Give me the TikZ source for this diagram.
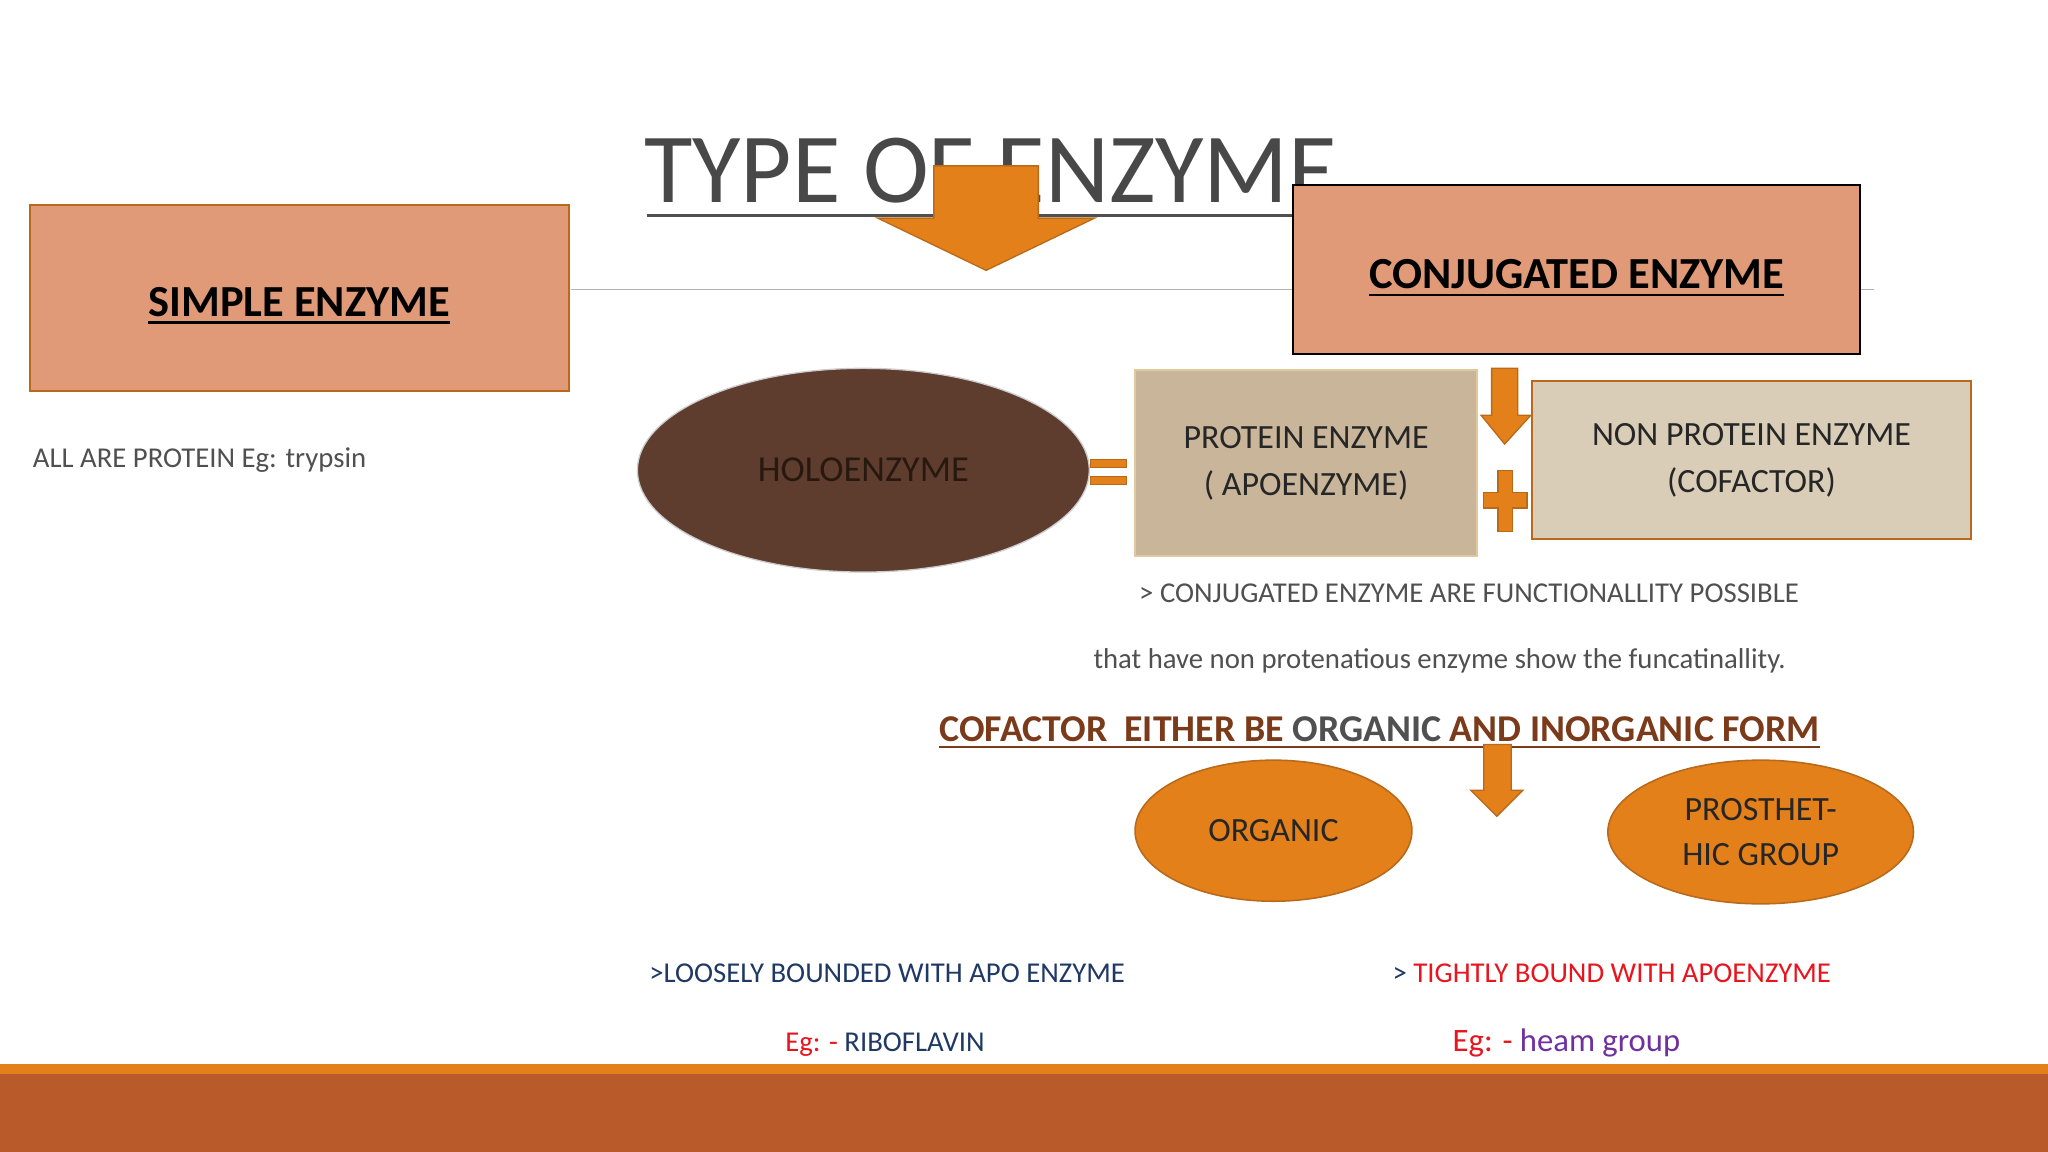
\documentclass[tikz,border=0pt]{standalone}
\usepackage{fontspec}
\setmainfont{Carlito}
\usetikzlibrary{shapes.geometric}
\begin{document}
\begin{tikzpicture}[x=1pt,y=-1pt,
  salmon/.style={fill=boxsal,line width=1.5pt},
  orangeshape/.style={fill=arrowor,draw=arrowdk,line width=1pt},
  body/.style={font=\fontsize{22}{26}\selectfont,anchor=base west,inner sep=0pt}]
\definecolor{boxsal}{HTML}{E09A78}
\definecolor{arrowor}{HTML}{E3801A}
\definecolor{arrowdk}{HTML}{B86A1A}
\definecolor{txtgray}{HTML}{505050}
\definecolor{brownt}{HTML}{7B3A1A}
\definecolor{navyt}{HTML}{1F3864}
\definecolor{redt}{HTML}{E8141E}
\definecolor{purpt}{HTML}{7030A0}
\definecolor{bandc}{HTML}{B85A2A}
\definecolor{holoc}{HTML}{5E3D2F}
\definecolor{holot}{HTML}{28190F}
\definecolor{protc}{HTML}{C8B59A}
\definecolor{protd}{HTML}{E0C9A0}
\definecolor{nonpc}{HTML}{D9CDB8}
\useasboundingbox (0,0) rectangle (1568,882);
\fill[white] (0,0) rectangle (1568,882);
% bottom band
\fill[arrowor] (0,815) rectangle (1568,822);
\fill[bandc] (0,822) rectangle (1568,882);
% title
\draw[gray!60,line width=0.8pt] (437,222) -- (1435,222);
\node[anchor=base west,inner sep=0pt,text=txtgray!90!black,font=\fontsize{76}{80}\selectfont] (title) at (493,155) {TYPE OF ENZYME};
\draw[txtgray,line width=2pt] (495,165) -- (1000,165);
\draw[orangeshape] (715,127) -- (795,127) -- (795,167) -- (838,167) -- (755,207) -- (672,167) -- (715,167) -- cycle;
% simple
\node[salmon,draw=arrowdk,minimum width=413pt,minimum height=142pt] (simple) at (229.5,228) {};
\node[font=\fontsize{34}{38}\selectfont\bfseries,inner sep=0pt,anchor=base] (simplet) at (229,242) {SIMPLE ENZYME};
\draw[line width=1.8pt] ([yshift=-5pt]simplet.base west) -- ([yshift=-5pt]simplet.base east);
% conjugated
\node[salmon,draw=black,minimum width=434pt,minimum height=129pt] (conj) at (1207,206.5) {};
\node[font=\fontsize{34}{38}\selectfont\bfseries,inner sep=0pt,anchor=base] (conjt) at (1207,221) {CONJUGATED ENZYME};
\draw[line width=1.8pt] ([yshift=-5pt]conjt.base west) -- ([yshift=-5pt]conjt.base east);
\node[body,text=txtgray] (allp) at (25,358) {ALL ARE PROTEIN Eg: trypsin};
% holo
\node[ellipse,fill=holoc,draw=gray!40,line width=1pt,minimum width=346pt,minimum height=156pt,inner sep=0pt,
  font=\fontsize{28}{32}\selectfont,text=holot] (holo) at (661,360) {HOLOENZYME};
\filldraw[fill=arrowor,draw=arrowdk,line width=0.6pt] (835,352) rectangle (862,358);
\filldraw[fill=arrowor,draw=arrowdk,line width=0.6pt] (835,365) rectangle (862,371);
% protein
\node[fill=protc,draw=protd,line width=1.5pt,minimum width=262pt,minimum height=143pt,
  align=center,font=\fontsize{26}{36}\selectfont,text=black!85] (prot) at (1000,354.5) {PROTEIN ENZYME\\( APOENZYME)};
\draw[orangeshape] (1142,282) -- (1162,282) -- (1162,318) -- (1172,318) -- (1152,340) -- (1134,318) -- (1142,318) -- cycle;
\draw[orangeshape] (1147,360) -- (1158,360) -- (1158,377) -- (1169,377) -- (1169,389) -- (1158,389) -- (1158,407) -- (1147,407) -- (1147,389) -- (1136,389) -- (1136,377) -- (1147,377) -- cycle;
\node[fill=nonpc,draw=arrowdk,line width=1.5pt,minimum width=336pt,minimum height=121pt,
  align=center,font=\fontsize{26}{36}\selectfont,text=black!85] (nonp) at (1341,352.5) {NON PROTEIN ENZYME\\(COFACTOR)};
\node[body,text=txtgray] (t1) at (872,461) {> CONJUGATED ENZYME ARE FUNCTIONALLITY POSSIBLE};
\node[body,text=txtgray] (t2) at (837,512) {that have non protenatious enzyme show the funcatinallity.};
\node[anchor=base west,inner sep=0pt,font=\fontsize{29}{32}\selectfont\bfseries,text=brownt] (cof) at (719,568)
  {COFACTOR\ \ EITHER BE \textcolor{txtgray}{ORGANIC} AND INORGANIC FORM};
\draw[brownt,line width=1.8pt] ([yshift=-4pt]cof.base west) -- ([yshift=-4pt]cof.base east);
\draw[orangeshape] (1136,570) -- (1157,570) -- (1157,605) -- (1166,605) -- (1146,625) -- (1126,605) -- (1136,605) -- cycle;
\node[ellipse,fill=arrowor,draw=arrowdk,line width=1.2pt,minimum width=212pt,minimum height=108pt,inner sep=0pt,
  font=\fontsize{26}{30}\selectfont,text=black!85] (org) at (975,636) {ORGANIC};
\node[ellipse,fill=arrowor,draw=arrowdk,line width=1.2pt,minimum width=234pt,minimum height=110pt,inner sep=0pt,align=center,
  font=\fontsize{26}{35}\selectfont,text=black!85] (pros) at (1348,637) {PROSTHET-\\HIC GROUP};
\node[body,text=navyt] (l1) at (497,752) {>LOOSELY BOUNDED WITH APO ENZYME};
\node[body,text=navyt] (l2) at (1066,752) {> \textcolor{redt}{TIGHTLY BOUND WITH APOENZYME}};
\node[body,text=redt] (l3) at (601,805) {Eg: - \textcolor{navyt}{RIBOFLAVIN}};
\node[body,text=redt,font=\fontsize{25}{28}\selectfont] (l4) at (1112,805) {Eg: - \textcolor{purpt}{heam group}};
\end{tikzpicture}
\end{document}
